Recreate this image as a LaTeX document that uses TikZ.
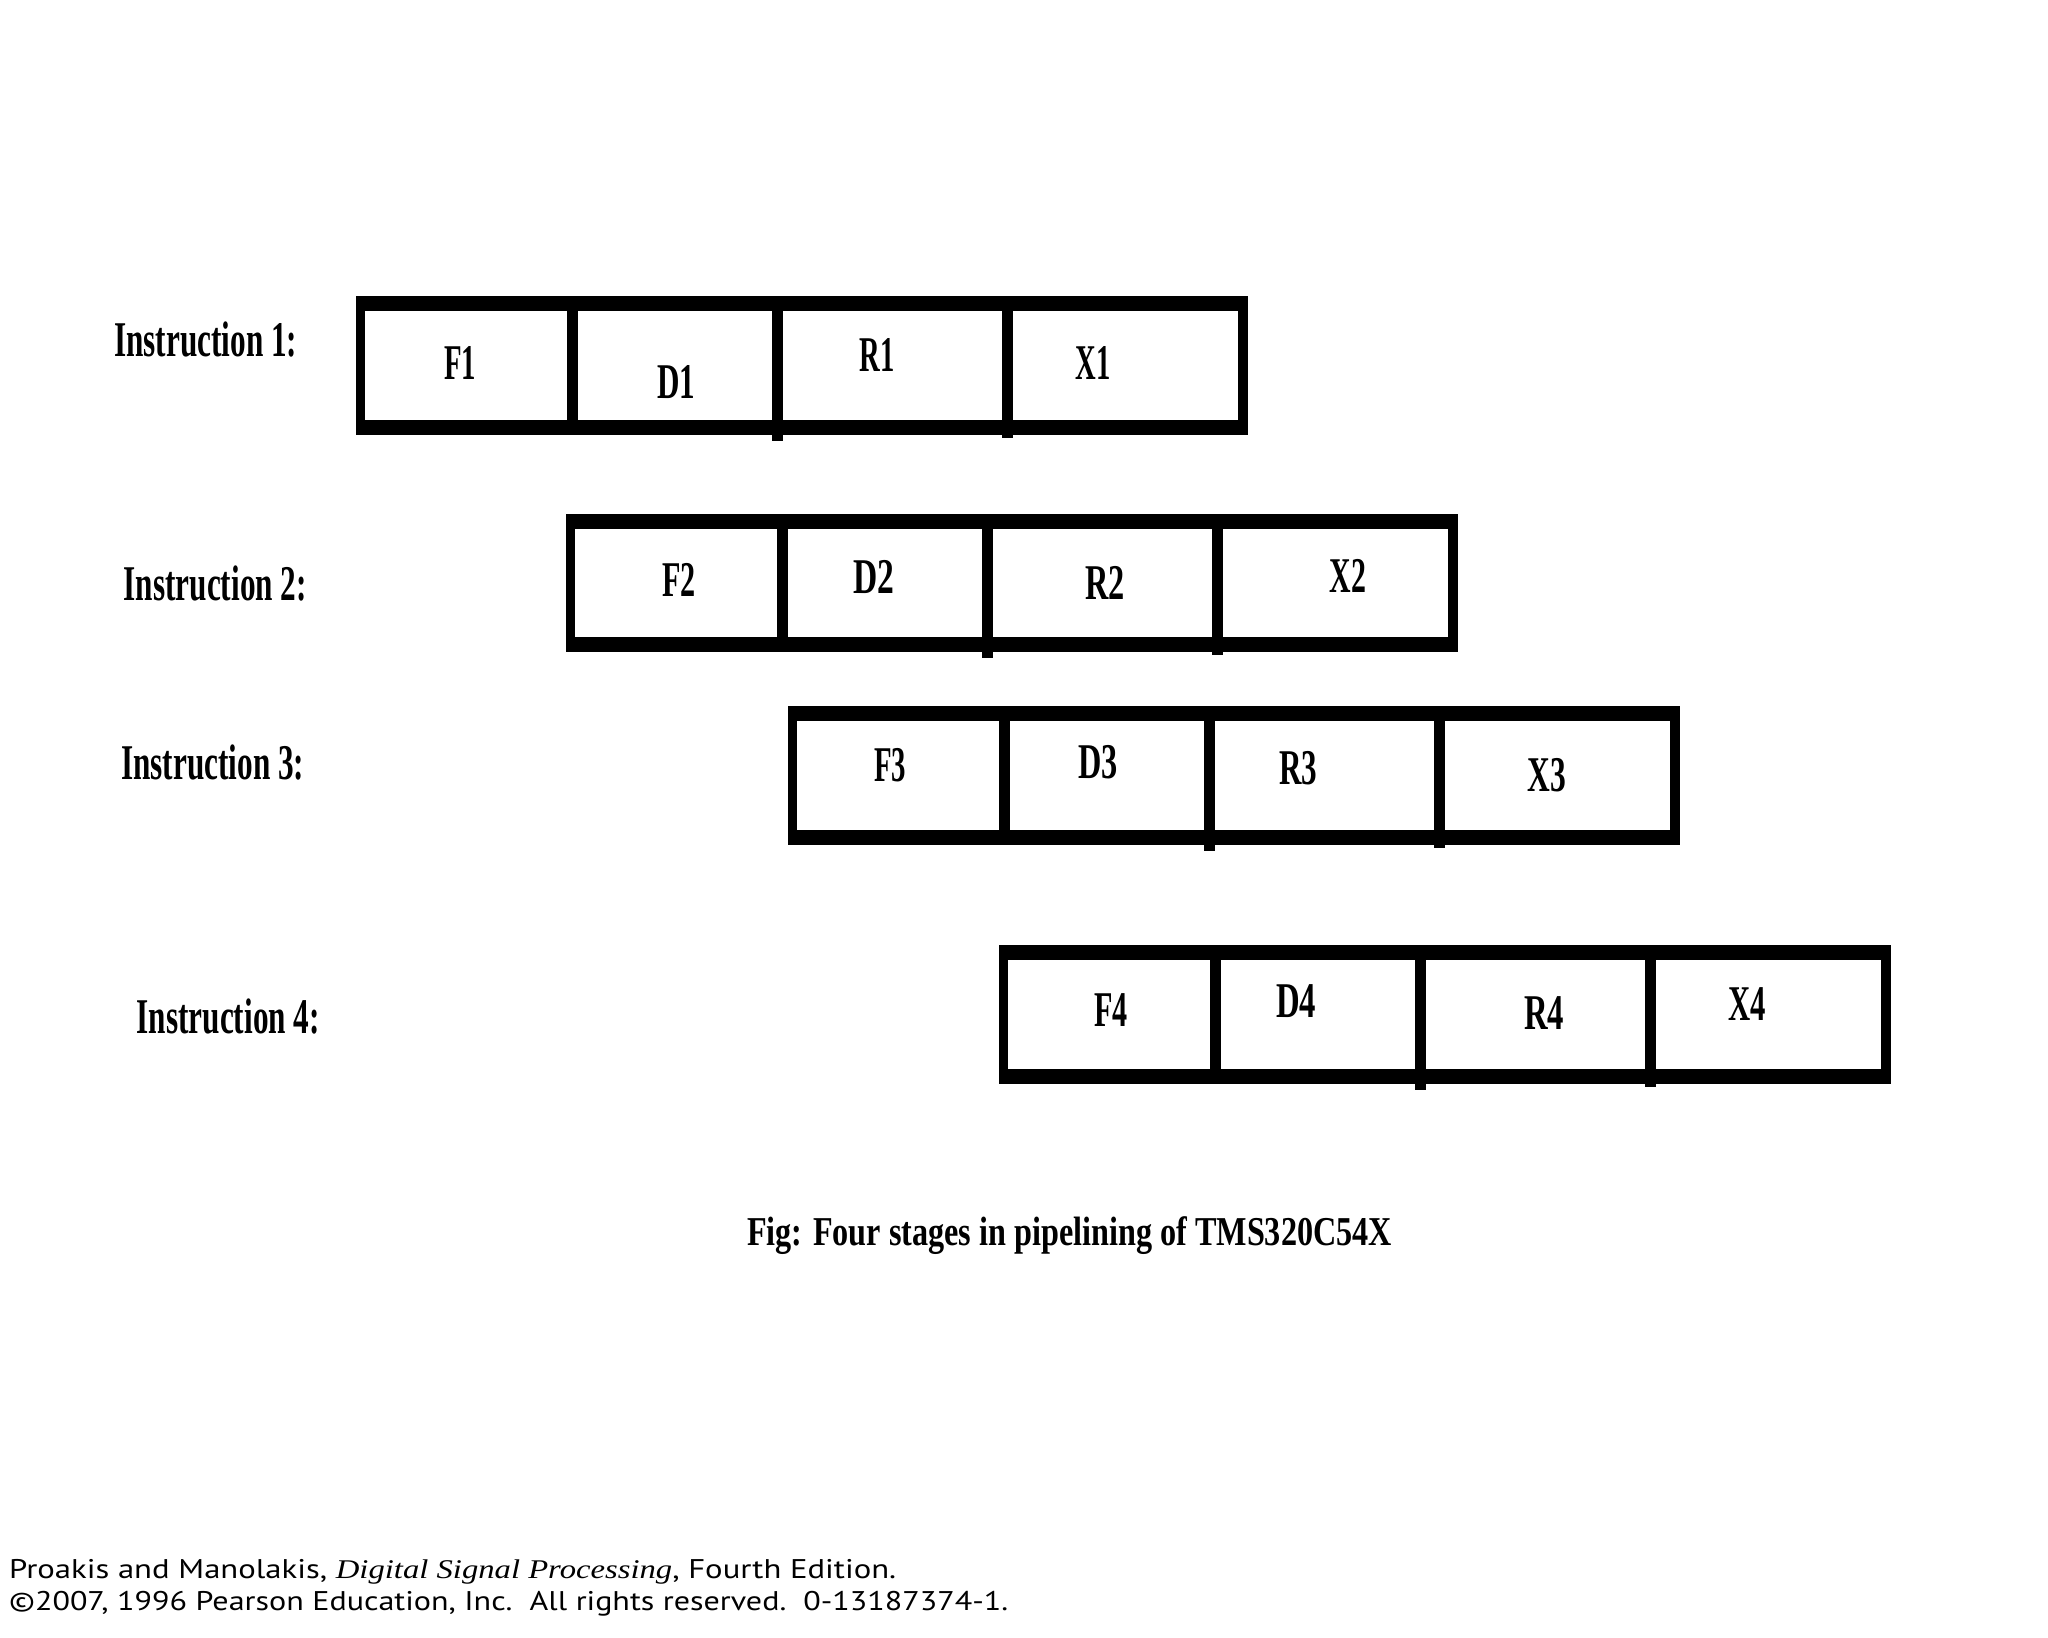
\documentclass[tikz,border=0pt]{standalone}
\usepackage{fontspec}
\usepackage{graphicx}
\setmainfont{Liberation Serif}
\newfontfamily\footsans{PT Sans}
\newfontfamily\footserif{Liberation Serif}
\newcommand\squeeze[2]{\resizebox{#1}{\height}{#2}}
\newcommand\pipeRow[2]{%
  \fill[black] (#1,#2) rectangle ({#1+891.5},{#2+138.5});
  \fill[black] ({#1+416},{#2+138.5}) rectangle ({#1+427},{#2+144.5});
  \fill[black] ({#1+646},{#2+138.5}) rectangle ({#1+657},{#2+141.5});
  \fill[white] ({#1+9},{#2+15}) rectangle ({#1+210.5},{#2+123.5});
  \fill[white] ({#1+221.5},{#2+15}) rectangle ({#1+416},{#2+123.5});
  \fill[white] ({#1+427},{#2+15}) rectangle ({#1+646},{#2+123.5});
  \fill[white] ({#1+657},{#2+15}) rectangle ({#1+881.5},{#2+123.5});
}
\begin{document}
\begin{tikzpicture}[x=1pt,y=-1pt,
  stagelab/.style={inner sep=0pt,font=\fontsize{50}{50}\selectfont\bfseries},
  instlab/.style={inner sep=0pt,font=\fontsize{50}{50}\selectfont\bfseries},
  caplab/.style={inner sep=0pt,anchor=base,font=\fontsize{41}{41}\selectfont\bfseries},
  footlab/.style={inner sep=0pt,anchor=base west,font=\fontsize{27}{27}\footsans}]
\useasboundingbox[fill=white] (0,0) rectangle (2048,1638);

% frames
\pipeRow{356}{296}
\pipeRow{566}{513.5}
\pipeRow{788}{706}
\pipeRow{999}{945}

% instruction labels
\node[instlab] (i1) at (205.7,340) {\squeeze{183pt}{Instruction 1:}};
\node[instlab] (i2) at (215.3,584) {\squeeze{183pt}{Instruction 2:}};
\node[instlab] (i3) at (212.8,762.7) {\squeeze{183pt}{Instruction 3:}};
\node[instlab] (i4) at (228.3,1016) {\squeeze{183pt}{Instruction 4:}};

% stage labels
\node[stagelab] (F1) at (460,363) {\squeeze{32pt}{F1}};
\node[stagelab] (D1) at (676,382) {\squeeze{38pt}{D1}};
\node[stagelab] (R1) at (877,355) {\squeeze{35pt}{R1}};
\node[stagelab] (X1) at (1093,363) {\squeeze{35pt}{X1}};

\node[stagelab] (F2) at (679,580) {\squeeze{33.5pt}{F2}};
\node[stagelab] (D2) at (874,577) {\squeeze{41pt}{D2}};
\node[stagelab] (R2) at (1105,583) {\squeeze{39.5pt}{R2}};
\node[stagelab] (X2) at (1348,576) {\squeeze{36.5pt}{X2}};

\node[stagelab] (F3) at (890,765) {\squeeze{32pt}{F3}};
\node[stagelab] (D3) at (1098,762) {\squeeze{39.5pt}{D3}};
\node[stagelab] (R3) at (1298,768) {\squeeze{38pt}{R3}};
\node[stagelab] (X3) at (1547,775) {\squeeze{38.5pt}{X3}};

\node[stagelab] (F4) at (1111,1010) {\squeeze{33.5pt}{F4}};
\node[stagelab] (D4) at (1296,1001.5) {\squeeze{40pt}{D4}};
\node[stagelab] (R4) at (1544,1013) {\squeeze{40pt}{R4}};
\node[stagelab] (X4) at (1747,1004) {\squeeze{37.5pt}{X4}};

% caption
\node[caplab] (cap) at (1069.5,1245) {\squeeze{645pt}{Fig: Four stages in pipelining of TMS320C54X}};

% footer
\node[footlab] (foot1) at (9,1578) {\squeeze{887pt}{Proakis and Manolakis, {\footserif\itshape Digital Signal Processing}, Fourth Edition.}};
\node[footlab] (foot2) at (9,1610) {\squeeze{999pt}{©2007, 1996 Pearson Education, Inc.\ \ All rights reserved.\ \ 0-13187374-1.}};
\end{tikzpicture}
\end{document}
